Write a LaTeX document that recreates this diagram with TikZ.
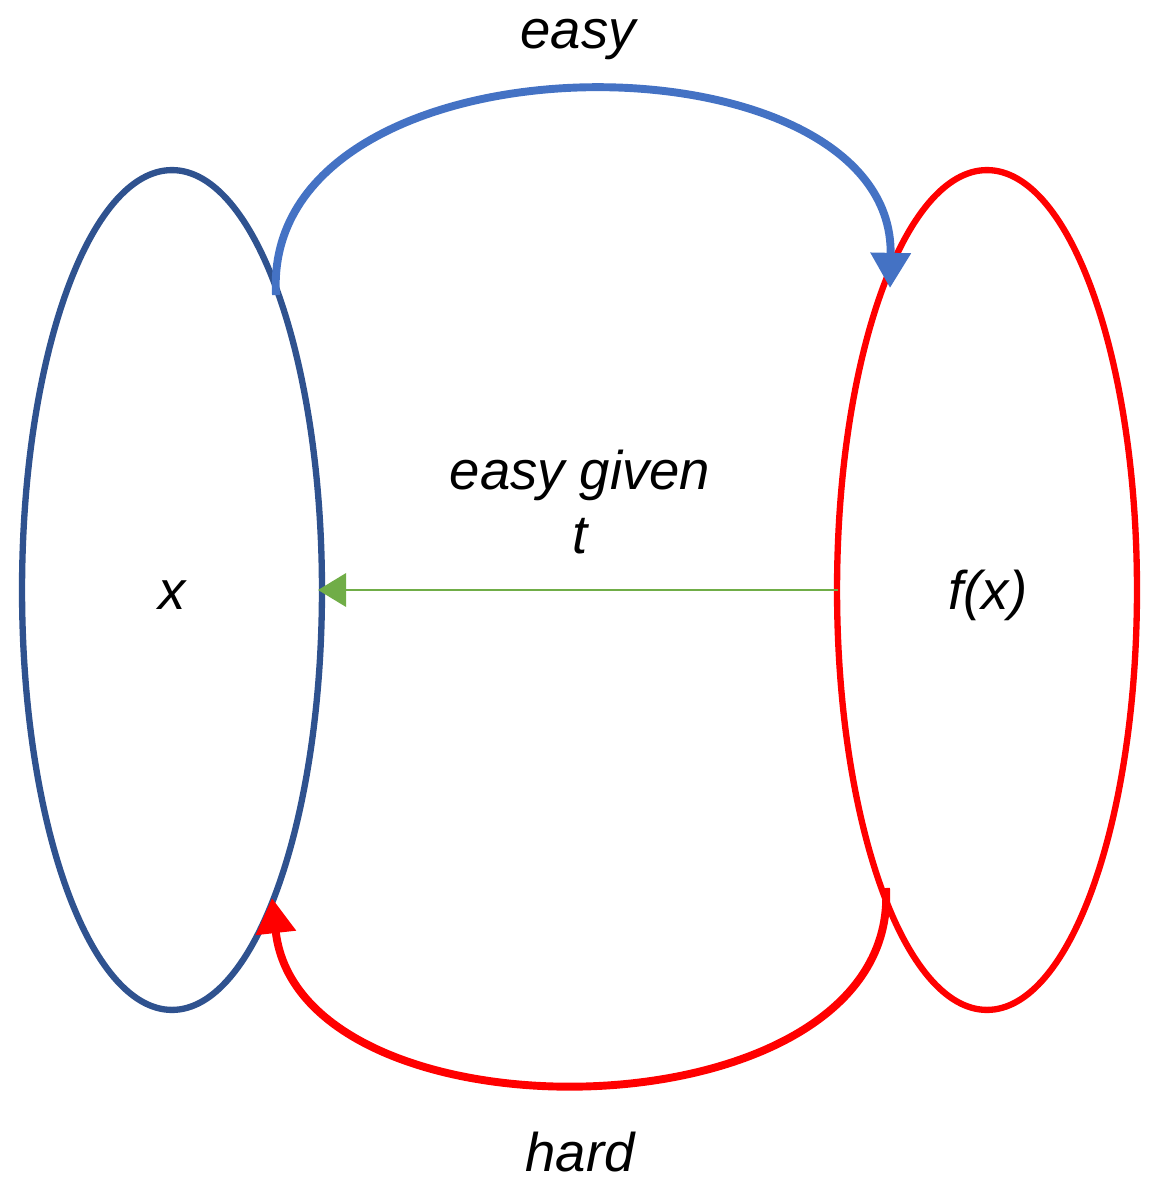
\documentclass[tikz,border=0pt]{standalone}
\usepackage{fontspec}
\setmainfont{Liberation Sans}
\usetikzlibrary{shapes.geometric,arrows.meta}
\definecolor{dblue}{HTML}{2F528F}
\definecolor{lblue}{HTML}{4472C4}
\definecolor{gr}{HTML}{70AD47}
\definecolor{rd}{HTML}{FF0000}
\tikzset{
 lbl/.style={font=\fontsize{31}{36}\selectfont\itshape, align=center},
 oval/.style={ellipse, line width=3.6pt, minimum width=6cm, minimum height=16.8cm, inner sep=0pt},
}
\begin{document}
\begin{tikzpicture}[x=0.02cm,y=-0.02cm]
\useasboundingbox (0,0) rectangle (1157,1192);
\node[oval, draw=dblue] (L) at (172,590) {};
\node[oval, draw=rd] (R) at (987,590) {};
\node[lbl] (x) at (172,595) {x};
\node[lbl] (fx) at (988,595) {f(x)};
\coordinate (bs) at (276,295);
\coordinate (be) at (890,288);
\coordinate (rs) at (886,888);
\coordinate (re) at (272,898);
\coordinate (gs) at (838,590);
\coordinate (ge) at (318,590);
\draw[lblue, line width=4.5pt, -{Triangle[length=20pt,width=22pt]}] (bs) .. controls (260,25) and (895,25) .. (be);
\draw[rd, line width=4.5pt, -{Triangle[length=20pt,width=22pt]}] (rs) .. controls (900,1140) and (300,1150) .. (re);
\draw[gr, line width=1.5pt, -{Triangle[length=16pt,width=19pt]}] (gs) -- (ge);
\node[lbl] (easy) at (578,40) {easy};
\node[lbl] (eg) at (580,502) {easy given\\t};
\node[lbl] (hard) at (580,1152) {hard};
\end{tikzpicture}
\end{document}
